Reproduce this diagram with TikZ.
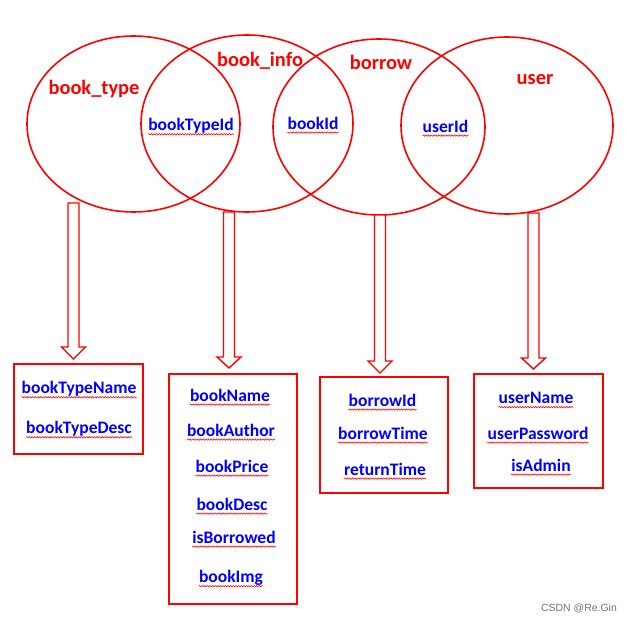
\documentclass[tikz,border=0pt]{standalone}
\usepackage{fontspec}
\setmainfont{Carlito}
\newfontfamily\wmfont{Liberation Sans}
\usetikzlibrary{shapes.geometric,calc,decorations.pathmorphing}
\tikzset{
  ent/.style={ellipse, draw=red, line width=1.6bp, inner sep=0pt},
  entlabel/.style={font=\bfseries\fontsize{20.5}{24}\selectfont, text=red, inner sep=0pt},
  fld/.style={font=\bfseries\fontsize{17.6}{20}\selectfont, text=blue, inner sep=0pt},
  tbl/.style={rectangle, draw=red, line width=2.3bp, inner sep=0pt, anchor=north west},
  barrow/.style={draw=red, line width=1.4bp, line join=miter, fill=white},
  squig/.style={draw=red, line width=0.55bp, decorate, decoration={snake, amplitude=0.7bp, segment length=2.6bp}},
}
\newcommand\blockarr[4]{%
  \draw[barrow] (#1-5.5,#2) -- (#1+5.5,#2) -- (#1+5.5,#3) -- (#1+12,#3) -- (#1,#4) -- (#1-12,#3) -- (#1-5.5,#3) -- cycle;}
\newcommand\sqline[1]{%
  \draw[squig] ($(#1.base west)+(0,3.5)$) -- ($(#1.base east)+(0,3.5)$);}
\begin{document}
\begin{tikzpicture}[x=1bp,y=-1bp]
\useasboundingbox (0,0) rectangle (633,622);
% entities
\node[ent, minimum width=213bp, minimum height=176bp] (bt) at (133.5,124) {};
\node[ent, minimum width=212bp, minimum height=177bp] (bi) at (247,123.5) {};
\node[ent, minimum width=212bp, minimum height=176bp] (br) at (379,127) {};
\node[ent, minimum width=212bp, minimum height=177bp] (us) at (507,125.5) {};
% entity labels
\node[entlabel] (lbt) at (94,89) {book\_type};
\node[entlabel] (lbi) at (260,61) {book\_info};
\node[entlabel] (lbr) at (381,62) {borrow};
\node[entlabel] (lus) at (535,80) {user};
% shared keys
\node[fld] (k1) at (191,126) {bookTypeId};
\node[fld] (k2) at (313,123) {bookId};
\node[fld] (k3) at (445.5,126) {userId};
% arrows
\blockarr{73.5}{203}{347}{359}
\blockarr{229}{212}{357}{368}
\blockarr{380}{215}{361}{373}
\blockarr{533.5}{213}{358}{369}
% tables
\node[tbl, minimum width=129bp, minimum height=90bp] (t1) at (13,363) {};
\node[tbl, minimum width=128bp, minimum height=230bp] (t2) at (168,373) {};
\node[tbl, minimum width=128bp, minimum height=116bp] (t3) at (319,376) {};
\node[tbl, minimum width=129bp, minimum height=114bp] (t4) at (473,373) {};
% fields
\node[fld] (f11) at (79,389) {bookTypeName};
\node[fld] (f12) at (79,429) {bookTypeDesc};
\node[fld] (f21) at (230,395) {bookName};
\node[fld] (f22) at (231,430) {bookAuthor};
\node[fld] (f23) at (232,466) {bookPrice};
\node[fld] (f24) at (232,504) {bookDesc};
\node[fld] (f25) at (234,537) {isBorrowed};
\node[fld] (f26) at (231,578) {bookImg};
\node[fld] (f31) at (382.5,400) {borrowId};
\node[fld] (f32) at (383,433) {borrowTime};
\node[fld] (f33) at (385,469) {returnTime};
\node[fld] (f41) at (536,398) {userName};
\node[fld] (f42) at (538,433) {userPassword};
\node[fld] (f43) at (541,465) {isAdmin};
\foreach \n in {k1,k2,k3,f11,f12,f21,f22,f23,f24,f25,f26,f31,f32,f33,f41,f42,f43}{\sqline{\n}}
% watermark
\node[font=\wmfont\fontsize{10.5}{12}\selectfont, text=black!55, inner sep=0pt] (wm) at (579,608) {CSDN @Re.Gin};
\end{tikzpicture}
\end{document}
